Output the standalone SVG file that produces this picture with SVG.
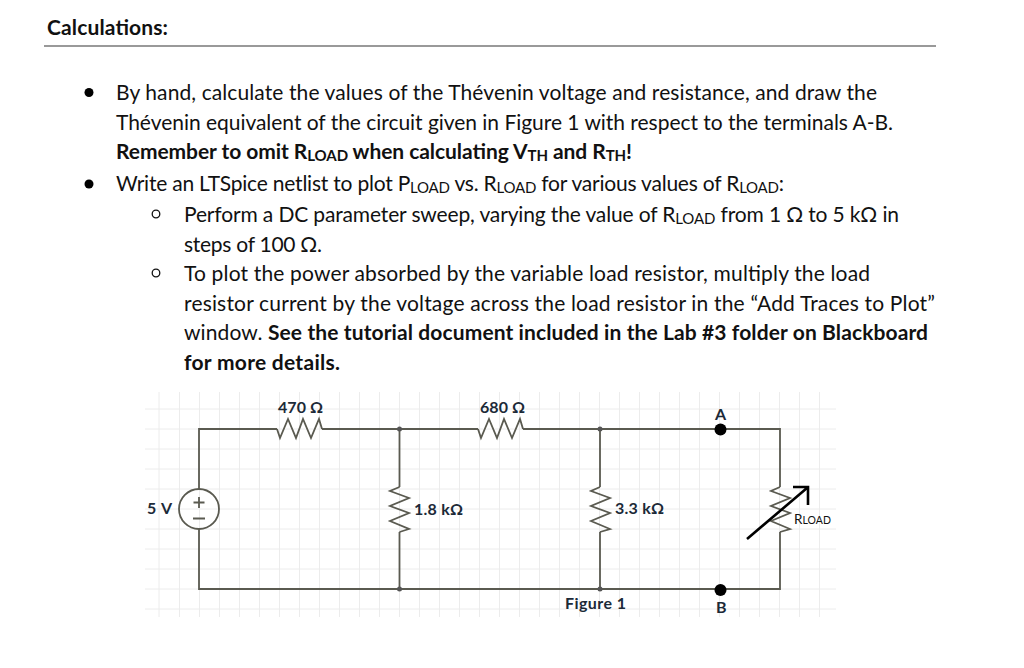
<svg xmlns="http://www.w3.org/2000/svg" width="1024" height="668" viewBox="0 0 1024 668">
<style>
text{font-family:"Lato","Carlito","Open Sans","Liberation Sans",sans-serif;fill:#111}
.t{font-size:21px}
.b{font-weight:700}
.s{font-size:15px}
.c{font-size:16px;font-weight:700;fill:#1c2a38}
.g{stroke:#ececec;stroke-width:1;fill:none}
.w{stroke:#5a5a50;stroke-width:1.8;fill:none}
.k{stroke:#000;stroke-width:2.6;fill:none}
</style>
<rect width="1024" height="668" fill="#fff"/>
<g id="text">
<text class="t b" x="47" y="35" textLength="121">Calculations:</text>
<line x1="44" y1="46" x2="936" y2="46" stroke="#777" stroke-width="1.5"/>
<circle cx="89" cy="92.500" r="4.500"/>
<circle cx="89" cy="184" r="4.500"/>
<circle cx="156" cy="214" r="3.800" fill="none" stroke="#111" stroke-width="1.300"/>
<circle cx="156" cy="273" r="3.800" fill="none" stroke="#111" stroke-width="1.300"/>
<text class="t" x="116" y="100" textLength="761">By hand, calculate the values of the Thévenin voltage and resistance, and draw the</text>
<text class="t" x="116" y="130" textLength="777">Thévenin equivalent of the circuit given in Figure 1 with respect to the terminals A-B.</text>
<text class="t b" x="116" y="159" textLength="516">Remember to omit R<tspan class="s" dy="2">LOAD</tspan><tspan dy="-2"> when calculating V</tspan><tspan class="s" dy="2">TH</tspan><tspan dy="-2"> and R</tspan><tspan class="s" dy="2">TH</tspan><tspan dy="-2">!</tspan></text>
<text class="t" x="116" y="191" textLength="668">Write an LTSpice netlist to plot P<tspan class="s" dy="2">LOAD</tspan><tspan dy="-2"> vs. R</tspan><tspan class="s" dy="2">LOAD</tspan><tspan dy="-2"> for various values of R</tspan><tspan class="s" dy="2">LOAD</tspan><tspan dy="-2">:</tspan></text>
<text class="t" x="184" y="222" textLength="715">Perform a DC parameter sweep, varying the value of R<tspan class="s" dy="2">LOAD</tspan><tspan dy="-2"> from 1 Ω to 5 kΩ in</tspan></text>
<text class="t" x="184" y="252" textLength="138">steps of 100 Ω.</text>
<text class="t" x="184" y="281" textLength="686">To plot the power absorbed by the variable load resistor, multiply the load</text>
<text class="t" x="184" y="311" textLength="751">resistor current by the voltage across the load resistor in the “Add Traces to Plot”</text>
<text class="t" x="184" y="340" textLength="744">window. <tspan class="b">See the tutorial document included in the Lab #3 folder on Blackboard</tspan></text>
<text class="t b" x="184" y="370" textLength="156">for more details.</text>
</g>
<g id="grid">
<path class="g" d="M159 392V617M179.500 392V617M199.500 392V617M219.500 392V617M239.500 392V617M259.500 392V617M279.500 392V617M299.500 392V617M319.500 392V617M339.500 392V617M359.500 392V617M379.500 392V617M399.500 392V617M419.500 392V617M439.500 392V617M459.500 392V617M479.500 392V617M499.500 392V617M519.500 392V617M539.500 392V617M559.500 392V617M579.500 392V617M599.500 392V617M619.500 392V617M639.500 392V617M659.500 392V617M679.500 392V617M699.500 392V617M719.500 392V617M739.500 392V617M759.500 392V617M779.500 392V617M799.500 392V617M819.500 392V617"/>
<path class="g" d="M145 409H836M145 429H836M145 449H836M145 469H836M145 489H836M145 509H836M145 529H836M145 549H836M145 569H836M145 589H836M145 609H836"/>
</g>
<g id="connectors">
<path class="w" d="M199 489V429H277M322 429H478M523 429H780V487M780 532V589H199V529"/>
<path class="w" d="M399.500 429V487M399.500 532V589"/>
<path class="w" d="M600 429V487M600 532V589"/>
</g>
<g id="source-5v">
<circle class="w" cx="199" cy="509" r="20"/>
<path class="w" d="M199 497V508M193.500 502.500H204.500M193 518.500H205"/>
<text class="c" x="147" y="514" textLength="25">5 V</text>
</g>
<g id="r470">
<path class="w" d="M277 429L280 438L288 419L296 438L303 419L311 438L319 419L322 429"/>
<text class="c" x="278" y="413" textLength="45">470 Ω</text>
</g>
<g id="r680">
<path class="w" d="M478 429L481 438L489 419L497 438L504 419L512 438L520 419L523 429"/>
<text class="c" x="480" y="413" textLength="45">680 Ω</text>
</g>
<g id="r18k">
<path class="w" d="M399.500 487L390 491L409 498L390 506L409 513L390 521L409 529L399.500 532"/>
<text class="c" x="414" y="515" textLength="49">1.8 kΩ</text>
</g>
<g id="r33k">
<path class="w" d="M600 487L591 491L610 498L591 506L610 513L591 521L610 529L600 532"/>
<text class="c" x="615" y="514" textLength="49">3.3 kΩ</text>
</g>
<g id="rload">
<path class="w" d="M780 487L771 491L790 498L771 506L790 513L771 521L790 529L780 532"/>
<path class="k" d="M747 539L807 488M793 487H808V505"/>
<text x="794" y="524" font-size="13.500" fill="#1c2a38" textLength="37">R<tspan font-size="10.500">LOAD</tspan></text>
</g>
<g id="junctions">
<circle cx="399.500" cy="429" r="2.500" fill="#555"/>
<circle cx="399.500" cy="589" r="2.500" fill="#555"/>
<circle cx="600" cy="429" r="2.500" fill="#555"/>
<circle cx="600" cy="589" r="2.500" fill="#555"/>
</g>
<g id="terminal-a">
<circle cx="720.500" cy="429.500" r="6" fill="#000"/>
<text class="c" x="715" y="420">A</text>
</g>
<g id="terminal-b">
<circle cx="720.500" cy="590" r="6" fill="#000"/>
<text class="c" x="716" y="613">B</text>
</g>
<text class="c" x="565" y="609" textLength="61">Figure 1</text>
</svg>
